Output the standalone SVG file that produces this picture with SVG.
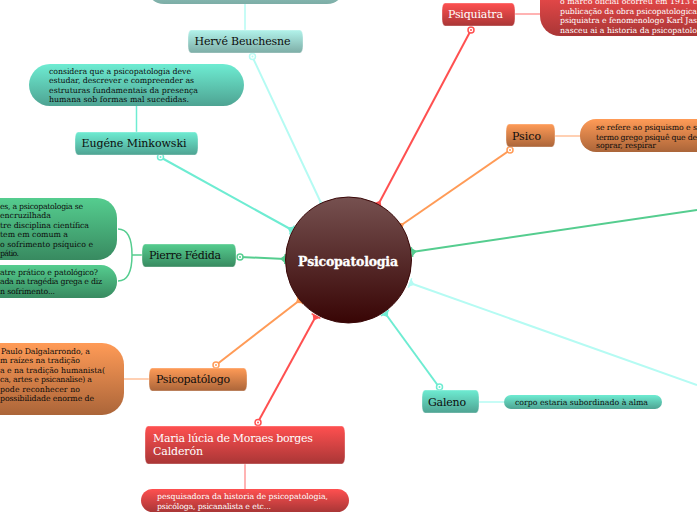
<svg xmlns="http://www.w3.org/2000/svg" width="697" height="520" viewBox="0 0 697 520">
<style>
text{font-family:"DejaVu Serif","Liberation Serif",serif;fill:#0c0c0c}
.t{font-size:11px}
.d{font-size:7.800px}
.w{fill:#fff}
.c{fill:none;stroke-width:2}
.l{fill:none;stroke-width:1.5}
.m{fill:#fff;stroke-width:1.5}
.n{rx:3px;ry:7px;stroke:#fff;stroke-opacity:.35;stroke-width:1}
</style>
<defs>
<linearGradient id="gt" x1="0" y1="0" x2="0" y2="1"><stop offset="0" stop-color="#6eecd2"/><stop offset="1" stop-color="#4ea392"/></linearGradient>
<linearGradient id="gc" x1="0" y1="0" x2="0" y2="1"><stop offset="0" stop-color="#b2f3eb"/><stop offset="1" stop-color="#7dada6"/></linearGradient>
<linearGradient id="gg" x1="0" y1="0" x2="0" y2="1"><stop offset="0" stop-color="#55cd8f"/><stop offset="1" stop-color="#388a60"/></linearGradient>
<linearGradient id="go" x1="0" y1="0" x2="0" y2="1"><stop offset="0" stop-color="#ff9b57"/><stop offset="1" stop-color="#ab6539"/></linearGradient>
<linearGradient id="gr" x1="0" y1="0" x2="0" y2="1"><stop offset="0" stop-color="#ff5050"/><stop offset="1" stop-color="#a93636"/></linearGradient>
<linearGradient id="gm" x1="0" y1="0" x2="0" y2="1"><stop offset="0" stop-color="#765150"/><stop offset="1" stop-color="#380505"/></linearGradient>
<marker id="ec" markerUnits="userSpaceOnUse" markerWidth="10" markerHeight="12" refX="8" refY="6" orient="auto"><path d="M8 1V11" stroke="#b5fbf3" stroke-width="1.500"/><path d="M3 6L8 2V10Z" fill="#b5fbf3"/></marker>
<marker id="et" markerUnits="userSpaceOnUse" markerWidth="10" markerHeight="12" refX="8" refY="6" orient="auto"><path d="M8 1V11" stroke="#6eecd2" stroke-width="1.500"/><path d="M3 6L8 2V10Z" fill="#6eecd2"/></marker>
<marker id="eg" markerUnits="userSpaceOnUse" markerWidth="10" markerHeight="12" refX="8" refY="6" orient="auto"><path d="M8 1V11" stroke="#55cd8f" stroke-width="1.500"/><path d="M3 6L8 2V10Z" fill="#55cd8f"/></marker>
<marker id="eo" markerUnits="userSpaceOnUse" markerWidth="10" markerHeight="12" refX="8" refY="6" orient="auto"><path d="M8 1V11" stroke="#ff9b57" stroke-width="1.500"/><path d="M3 6L8 2V10Z" fill="#ff9b57"/></marker>
<marker id="er" markerUnits="userSpaceOnUse" markerWidth="10" markerHeight="12" refX="8" refY="6" orient="auto"><path d="M8 1V11" stroke="#ff5050" stroke-width="1.500"/><path d="M3 6L8 2V10Z" fill="#ff5050"/></marker>
</defs>
<g id="connectors">
<path class="c" stroke="#b5fbf3" marker-end="url(#ec)" d="M252 56L322 205"/>
<path class="c" stroke="#6eecd2" marker-end="url(#et)" d="M160 157L292 230"/>
<path class="c" stroke="#55cd8f" marker-end="url(#eg)" d="M240 257L285 259"/>
<path class="c" stroke="#ff9b57" marker-end="url(#eo)" d="M216 365L300 300"/>
<path class="c" stroke="#ff5050" marker-end="url(#er)" d="M258 422L316 316"/>
<path class="c" stroke="#6eecd2" marker-end="url(#et)" d="M439 387L385 313"/>
<path class="c" stroke="#b5fbf3" marker-end="url(#ec)" d="M697 385L410 283"/>
<path class="c" stroke="#55cd8f" marker-end="url(#eg)" d="M697 210L412 252"/>
<path class="c" stroke="#ff9b57" marker-end="url(#eo)" d="M510 150L400 226"/>
<path class="c" stroke="#ff5050" marker-end="url(#er)" d="M471 30L378 205"/>
<path class="l" stroke="#b5fbf3" d="M245 30V4"/>
<path class="l" stroke="#6eecd2" d="M136.500 132V106"/>
<path class="l" stroke="#55cd8f" d="M142 255H132M118 229C128 229 132 240 132 255C132 270 128 281 118 281"/>
<path class="l" stroke="#ffc09a" d="M149 379H124"/>
<path class="l" stroke="#ff9a9a" d="M245 464V489"/>
<path class="l" stroke="#b5fbf3" d="M479 402H504"/>
<path class="l" stroke="#ff9a9a" d="M515 14H540"/>
<path class="l" stroke="#ffc09a" d="M555 136H580"/>
<g id="ends">
<circle class="m" stroke="#b5fbf3" cx="252.500" cy="56.500" r="3"/><circle fill="#b5fbf3" cx="252.500" cy="56.500" r="1"/>
<circle class="m" stroke="#6eecd2" cx="160.500" cy="157" r="3"/><circle fill="#6eecd2" cx="160.500" cy="157" r="1"/>
<circle class="m" stroke="#55cd8f" cx="240" cy="257" r="3"/><circle fill="#55cd8f" cx="240" cy="257" r="1"/>
<circle class="m" stroke="#ff9b57" cx="216" cy="365" r="3"/><circle fill="#ff9b57" cx="216" cy="365" r="1"/>
<circle class="m" stroke="#ff5050" cx="258" cy="422.500" r="3"/><circle fill="#ff5050" cx="258" cy="422.500" r="1"/>
<circle class="m" stroke="#6eecd2" cx="439.500" cy="387" r="3"/><circle fill="#6eecd2" cx="439.500" cy="387" r="1"/>
<circle class="m" stroke="#ff9b57" cx="510" cy="150" r="3"/><circle fill="#ff9b57" cx="510" cy="150" r="1"/>
<circle class="m" stroke="#ff5050" cx="471" cy="30" r="3"/><circle fill="#ff5050" cx="471" cy="30" r="1"/>
</g>
</g>
<g id="n-top"><rect x="146" y="-40" width="199" height="44" rx="18" fill="url(#gc)"/></g>
<g id="n-herve"><rect class="n" x="188" y="30" width="115" height="23" fill="url(#gc)"/><text class="t" x="194.500" y="45" textLength="96">Hervé Beuchesne</text></g>
<g id="n-minkowski-d"><rect x="29" y="64" width="215" height="42" rx="21" fill="url(#gt)"/>
<text class="d" x="49" y="74" textLength="142">considera que a psicopatologia deve</text>
<text class="d" x="49" y="83" textLength="145">estudar, descrever e compreender as</text>
<text class="d" x="49" y="93" textLength="149">estruturas fundamentais da presença</text>
<text class="d" x="49" y="102" textLength="140">humana sob formas mal sucedidas.</text></g>
<g id="n-minkowski"><rect class="n" x="75" y="132" width="123" height="23" fill="url(#gt)"/><text class="t" x="81.500" y="147" textLength="105">Eugéne Minkowski</text></g>
<g id="n-fedida-d1"><rect x="-60" y="198" width="177" height="62" rx="20" fill="url(#gg)"/>
<text class="d" x="0" y="209" textLength="83">es, a psicopatologia se</text>
<text class="d" x="0" y="218" textLength="51">encruzilhada</text>
<text class="d" x="0" y="228" textLength="89">tre disciplina científica</text>
<text class="d" x="0" y="237" textLength="68">tem em comum a</text>
<text class="d" x="0" y="247" textLength="93">o sofrimento psíquico e</text>
<text class="d" x="0" y="256" textLength="19">pátio.</text></g>
<g id="n-fedida-d2"><rect x="-60" y="265" width="177" height="33" rx="16" fill="url(#gg)"/>
<text class="d" x="0" y="275" textLength="98">atre prático e patológico?</text>
<text class="d" x="0" y="284" textLength="102">ada na tragédia grega e diz</text>
<text class="d" x="0" y="294" textLength="55">n sofrimento...</text></g>
<g id="n-fedida"><rect class="n" x="142" y="244" width="94" height="23" fill="url(#gg)"/><text class="t" x="149" y="259" textLength="72">Pierre Fédida</text></g>
<g id="n-psicopatologo-d"><rect x="-60" y="343" width="184" height="72" rx="22" fill="url(#go)"/>
<text class="d" x="1" y="354" textLength="89">Paulo Dalgalarrondo, a</text>
<text class="d" x="0" y="363" textLength="80">m raízes na tradição</text>
<text class="d" x="0" y="373" textLength="105">a e na tradição humanista(</text>
<text class="d" x="0" y="382" textLength="92">ca, artes e psicanalise) a</text>
<text class="d" x="0" y="392" textLength="80">pode reconhecer no</text>
<text class="d" x="0" y="401" textLength="94">possibilidade enorme de</text></g>
<g id="n-psicopatologo"><rect class="n" x="149" y="368" width="98" height="23" fill="url(#go)"/><text class="t" x="156" y="383" textLength="74">Psicopatólogo</text></g>
<g id="n-maria"><rect class="n" x="145" y="426" width="200" height="38" fill="url(#gr)"/><text class="t w" x="153" y="442" textLength="160">Maria lúcia de Moraes borges</text><text class="t w" x="153" y="455" textLength="50">Calderón</text></g>
<g id="n-maria-d"><rect x="141" y="489" width="208" height="23" rx="11.500" fill="url(#gr)"/>
<text class="d w" x="157" y="499" textLength="171">pesquisadora da historia de psicopatologia,</text>
<text class="d w" x="157" y="509" textLength="114">psicóloga, psicanalista e etc...</text></g>
<g id="n-galeno"><rect class="n" x="422" y="390" width="57" height="23" fill="url(#gt)"/><text class="t" x="428" y="406" textLength="38">Galeno</text></g>
<g id="n-galeno-d"><rect x="504" y="395" width="158" height="14" rx="7" fill="url(#gt)"/><text class="d" x="515" y="405" textLength="133">corpo estaria subordinado à alma</text></g>
<g id="n-psiquiatra"><rect class="n" x="442" y="3" width="73" height="23" fill="url(#gr)"/><text class="t w" x="448" y="18" textLength="55">Psiquiatra</text></g>
<g id="n-psiquiatra-d"><rect x="540" y="-20" width="220" height="56" rx="20" fill="url(#gr)"/>
<text class="d w" x="560" y="4" textLength="137">o marco oficial ocorreu em 1913 c</text>
<text class="d w" x="560" y="14" textLength="137">publicação da obra psicopatologica</text>
<text class="d w" x="560" y="23" textLength="137">psiquiatra e fenomenologo Karl Jas</text>
<text class="d w" x="560" y="33" textLength="137">nasceu ai a historia da psicopatolo</text></g>
<g id="n-psico"><rect class="n" x="506" y="124" width="49" height="23" fill="url(#go)"/><text class="t" x="512" y="140" textLength="29">Psico</text></g>
<g id="n-psico-d"><rect x="580" y="119" width="180" height="33" rx="16" fill="url(#go)"/>
<text class="d" x="596" y="130" textLength="101">se refere ao psiquismo e s</text>
<text class="d" x="596" y="140" textLength="101">termo grego psiquê que de</text>
<text class="d" x="596" y="148" textLength="60">soprar, respirar</text></g>
<g id="n-center"><circle cx="348.500" cy="260" r="63" fill="url(#gm)" stroke="#3a0808" stroke-width="1"/>
<text x="298" y="266" font-size="12.500" font-weight="700" style="fill:#fff" stroke="#fff" stroke-width=".3" textLength="100">Psicopatologia</text></g>
</svg>
